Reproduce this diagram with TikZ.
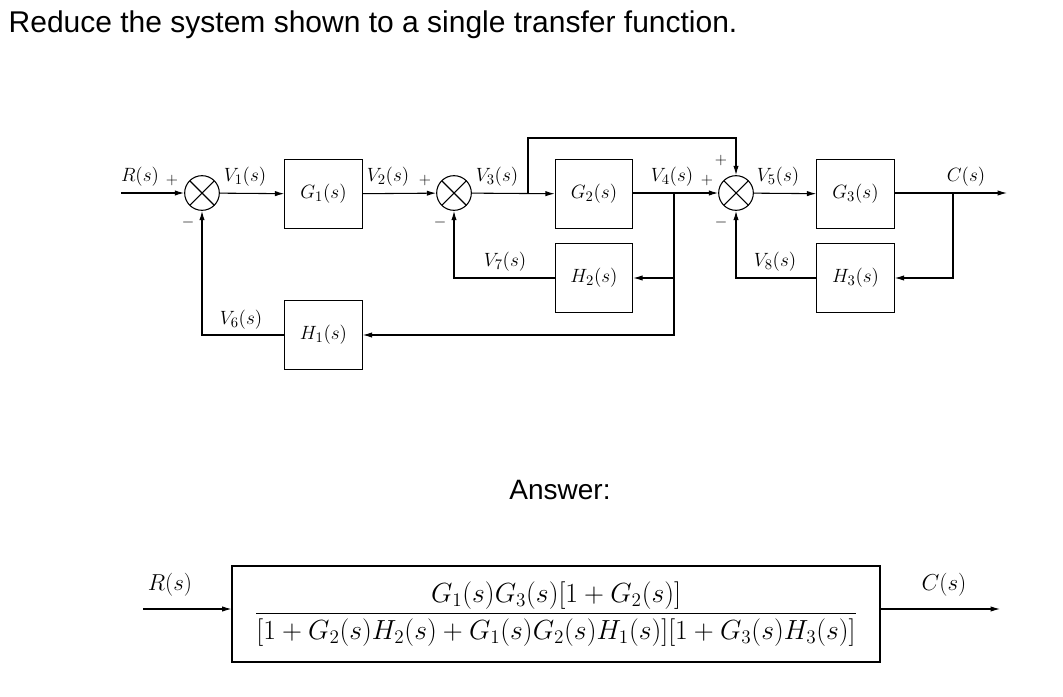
\documentclass[tikz,border=0pt]{standalone}
\usepackage{fontspec}
\setmainfont{Liberation Sans}
\usepackage{amsmath}
\usetikzlibrary{arrows.meta}
\begin{document}
\begin{tikzpicture}[x=0.75pt,y=-0.75pt,
  blk/.style={draw, thick, minimum width=58pt, minimum height=52pt, inner sep=0pt, font=\fontsize{15}{18}\selectfont},
  sum/.style={draw, thick, circle, minimum size=26pt, inner sep=0pt, path picture={
    \draw (path picture bounding box.north west) -- (path picture bounding box.south east)
          (path picture bounding box.north east) -- (path picture bounding box.south west);}},
  lbl/.style={font=\fontsize{15}{18}\selectfont, inner sep=1pt},
  sgn/.style={font=\fontsize{13}{15}\selectfont, inner sep=0pt},
  sig/.style={thick, -{Latex[length=7pt,width=4pt]}},
  ln/.style={thick}]
\useasboundingbox (0,0) rectangle (1063,696);
\node[anchor=west, font=\fontsize{22.5}{26}\selectfont] (title) at (4,25) {Reduce the system shown to a single transfer function.};

% nodes
\coordinate (in) at (121,193);
\node[sum] (s1) at (202,193) {};
\node[blk] (g1) at (323.5,194) {$G_1(s)$};
\node[sum] (s2) at (454,193) {};
\coordinate (b3) at (528,193);
\coordinate (t3) at (528,138);
\node[blk] (g2) at (594,194) {$G_2(s)$};
\node[blk] (h2) at (594,278) {$H_2(s)$};
\node[blk] (h1) at (323.5,335) {$H_1(s)$};
\coordinate (b4) at (674,193);
\coordinate (d4) at (674,335);
\coordinate (h2r) at (674,278);
\node[sum] (s3) at (736,193) {};
\coordinate (t5) at (736,138);
\node[blk] (g3) at (855.5,194) {$G_3(s)$};
\node[blk] (h3) at (855.5,278) {$H_3(s)$};
\coordinate (bc) at (953,193);
\coordinate (hc) at (953,278);
\coordinate (out) at (1007,193);

% forward path
\draw[sig] (in) -- (s1);
\draw[sig] (s1) -- (g1);
\draw[sig] (g1) -- (s2);
\draw[sig] (s2) -- (g2);
\draw[sig] (g2.east |- s3) -- (s3);
\draw[sig] (s3) -- (g3);
\draw[sig] (g3.east |- out) -- (out);
% feedforward around G2
\draw[sig] (b3) -- (t3) -- (t5) -- (s3);
% feedback loops
\draw[sig] (b4) -- (d4) -- (h1);
\draw[sig] (h1) -| (s1);
\draw[sig] (h2r) -- (h2);
\draw[sig] (h2) -| (s2);
\draw[sig] (bc) -- (hc) -- (h3);
\draw[sig] (h3) -| (s3);

% labels
\node[lbl] (lr) at (140,177) {$R(s)$};
\node[lbl] (lv1) at (245,177) {$V_1(s)$};
\node[lbl] (lv2) at (388,177) {$V_2(s)$};
\node[lbl] (lv3) at (497,177) {$V_3(s)$};
\node[lbl] (lv4) at (672,177) {$V_4(s)$};
\node[lbl] (lv5) at (778,177) {$V_5(s)$};
\node[lbl] (lc) at (966,177) {$C(s)$};
\node[lbl] (lv7) at (505,262) {$V_7(s)$};
\node[lbl] (lv8) at (775,262) {$V_8(s)$};
\node[lbl] (lv6) at (241,320) {$V_6(s)$};
\node[sgn] (p1) at (172,180) {$+$};
\node[sgn] (m1) at (188,222) {$-$};
\node[sgn] (p2) at (425,180) {$+$};
\node[sgn] (m2) at (440,222) {$-$};
\node[sgn] (p3) at (707,180) {$+$};
\node[sgn] (p4) at (721,160) {$+$};
\node[sgn] (m3) at (721,222) {$-$};

% answer
\node[font=\fontsize{21}{24}\selectfont] (ans) at (560,490) {Answer:};
\node[draw, thick, minimum width=486pt, minimum height=72pt, inner sep=0pt] (tf) at (556,614)
  {\fontsize{21.5}{25}\selectfont$\dfrac{G_1(s)G_3(s)[1+G_2(s)]}{[1+G_2(s)H_2(s)+G_1(s)G_2(s)H_1(s)][1+G_3(s)H_3(s)]}$};
\coordinate (ain) at (143,609);
\coordinate (aout) at (1000,609);
\draw[sig] (ain) -- (ain -| tf.west);
\draw[sig] (ain -| tf.east) -- (aout);
\node[lbl, font=\fontsize{17}{20}\selectfont] (ar) at (170,585) {$R(s)$};
\node[lbl, font=\fontsize{17}{20}\selectfont] (ac) at (944,585) {$C(s)$};
\end{tikzpicture}
\end{document}
